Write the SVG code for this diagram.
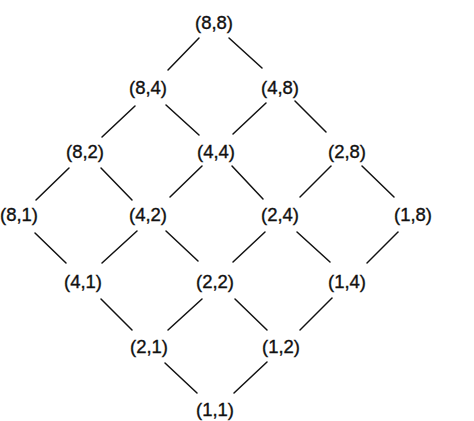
<svg xmlns="http://www.w3.org/2000/svg" width="474" height="421" viewBox="0 0 474 421">
<style>
text{font-family:"Liberation Sans",Arial,sans-serif;font-size:18.5px;fill:#111;stroke:#111;stroke-width:0.35;text-anchor:middle}
#edges line{stroke:#111;stroke-width:1.5;stroke-linecap:round}
</style>
<rect width="474" height="421" fill="#fff"/>
<g id="edges">
<line x1="199" y1="38" x2="168" y2="70"/>
<line x1="229" y1="38" x2="262" y2="68"/>
<line x1="135" y1="106" x2="102" y2="137"/>
<line x1="166" y1="105" x2="199" y2="135"/>
<line x1="266" y1="103" x2="233" y2="134"/>
<line x1="295" y1="101" x2="326" y2="132"/>
<line x1="69" y1="168" x2="36" y2="200"/>
<line x1="101" y1="168" x2="132" y2="200"/>
<line x1="202" y1="166" x2="170" y2="197"/>
<line x1="232" y1="166" x2="263" y2="199"/>
<line x1="331" y1="166" x2="300" y2="197"/>
<line x1="362" y1="166" x2="394" y2="197"/>
<line x1="35" y1="233" x2="66" y2="263"/>
<line x1="137" y1="231" x2="102" y2="263"/>
<line x1="166" y1="231" x2="198" y2="261"/>
<line x1="265" y1="232" x2="233" y2="262"/>
<line x1="297" y1="232" x2="330" y2="262"/>
<line x1="398" y1="232" x2="367" y2="263"/>
<line x1="101" y1="299" x2="132" y2="330"/>
<line x1="202" y1="299" x2="168" y2="330"/>
<line x1="235" y1="299" x2="267" y2="330"/>
<line x1="332" y1="298" x2="300" y2="330"/>
<line x1="165" y1="363" x2="197" y2="393"/>
<line x1="267" y1="362" x2="234" y2="393"/>
</g>
<g id="n88"><text x="214" y="29">(8,8)</text></g>
<g id="n84"><text x="148" y="94">(8,4)</text></g>
<g id="n48"><text x="280" y="94">(4,8)</text></g>
<g id="n82"><text x="85" y="158">(8,2)</text></g>
<g id="n44"><text x="216" y="158">(4,4)</text></g>
<g id="n28"><text x="347" y="158">(2,8)</text></g>
<g id="n81"><text x="19" y="221">(8,1)</text></g>
<g id="n42"><text x="148" y="221">(4,2)</text></g>
<g id="n24"><text x="280" y="221">(2,4)</text></g>
<g id="n18"><text x="413" y="221">(1,8)</text></g>
<g id="n41"><text x="83" y="288">(4,1)</text></g>
<g id="n22"><text x="215" y="288">(2,2)</text></g>
<g id="n14"><text x="347" y="288">(1,4)</text></g>
<g id="n21"><text x="149" y="353">(2,1)</text></g>
<g id="n12"><text x="281" y="353">(1,2)</text></g>
<g id="n11"><text x="215" y="416">(1,1)</text></g>
</svg>
